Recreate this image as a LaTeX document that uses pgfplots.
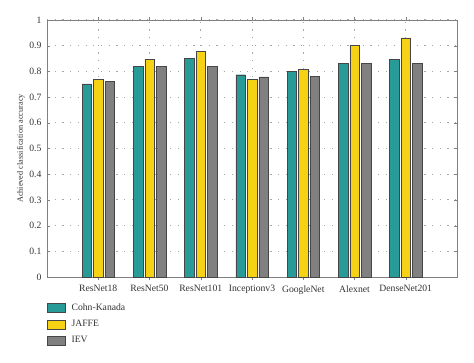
\documentclass[border=0pt]{standalone}
\usepackage{pgfplots}
\pgfplotsset{compat=1.18}
\usepackage{fontspec}
\setmainfont{Liberation Serif}
\definecolor{cteal}{RGB}{40,154,152}
\definecolor{cyel}{RGB}{246,210,20}
\definecolor{cgray}{RGB}{128,128,128}
\definecolor{cedge}{RGB}{70,70,70}
\begin{document}
\begin{tikzpicture}[x=1bp,y=1bp]
\useasboundingbox (0,0) rectangle (474,362);
\begin{axis}[
  at={(47bp,85bp)}, anchor=south west,
  scale only axis, width=410bp, height=257bp,
  xmin=0, xmax=8, ymin=0, ymax=1,
  xtick={1,2,3,4,5,6,7},
  xticklabels={ResNet18,ResNet50,ResNet101,Inceptionv3,GoogleNet,Alexnet,DenseNet201},
  ytick={0,0.1,...,1.0},
  yticklabels={0,0.1,0.2,0.3,0.4,0.5,0.6,0.7,0.8,0.9,1},
  /pgf/number format/assume math mode=true,
  tick label style={font=\fontsize{9.7}{11}\selectfont, text=black!80},
  xticklabel style={yshift=-2bp},
  yticklabel style={xshift=-2bp},
  ylabel={Achieved classification accuracy},
  ylabel style={font=\fontsize{8.3}{10}\selectfont, text=black!80},
  ylabel shift=-2pt,
  axis line style={draw=black!50},
  tick style={draw=black!50},
  tick align=inside,
  major tick length=3bp,
  xmajorgrids, ymajorgrids,
  grid style={dash pattern=on 1.2bp off 6.5bp, draw=black!35, line width=1bp},
  ybar=2bp, bar width=9.5bp,
  legend style={at={(0,-0.095)}, anchor=north west, draw=none, fill=none,
    inner sep=0pt, font=\fontsize{9.7}{11}\selectfont, text=black!80,
    row sep=4.5bp, legend cell align=left,
    nodes={inner xsep=6bp}},
  legend image code/.code={\draw[#1] (0bp,-4.5bp) rectangle (18bp,4.5bp);},
]
\addplot[fill=cteal, draw=cedge, line width=0.4pt] coordinates {(1,0.751) (2,0.82) (3,0.85) (4,0.787) (5,0.80) (6,0.83) (7,0.848)};
\addplot[fill=cyel, draw=cedge, line width=0.4pt] coordinates {(1,0.770) (2,0.848) (3,0.877) (4,0.769) (5,0.809) (6,0.901) (7,0.93)};
\addplot[fill=cgray, draw=cedge, line width=0.4pt] coordinates {(1,0.762) (2,0.82) (3,0.82) (4,0.779) (5,0.78) (6,0.83) (7,0.83)};
\legend{Cohn-Kanada,JAFFE,IEV}
\end{axis}
\end{tikzpicture}
\end{document}
